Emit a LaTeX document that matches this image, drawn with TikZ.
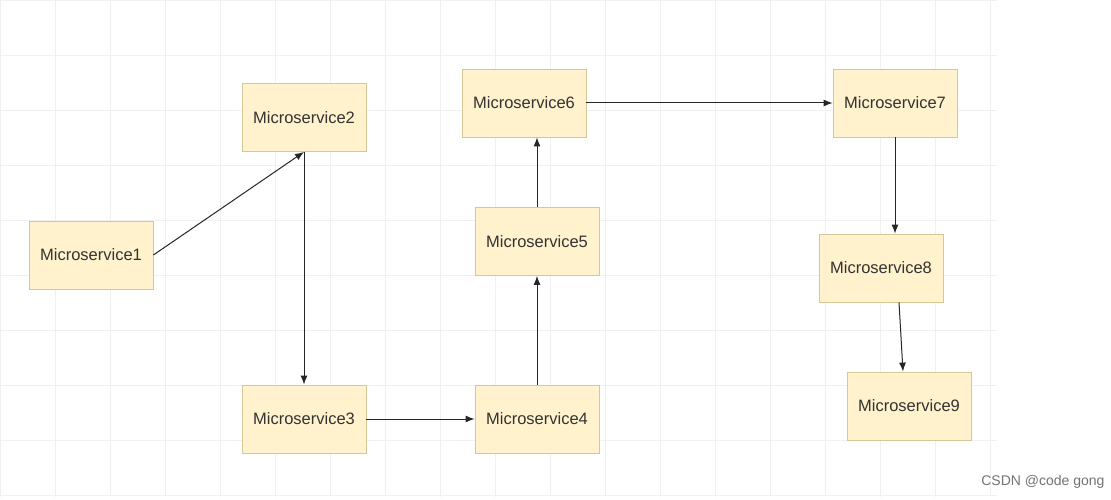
\documentclass[tikz,border=0pt]{standalone}
\usepackage{fontspec}
\usetikzlibrary{arrows.meta}
\setmainfont{Liberation Sans}
\begin{document}
\begin{tikzpicture}[x=1pt,y=-1pt,
  svc/.style={draw={rgb,255:red,214;green,200;blue,150},fill={rgb,255:red,255;green,242;blue,204},line width=0.8pt,minimum width=124pt,minimum height=68pt,font=\fontsize{16.5}{18}\selectfont,text=black!80},
  arr/.style={-{Latex[length=9pt,width=7pt]},line width=1pt,draw=black!85}]
\useasboundingbox (0,0) rectangle (1111,500);
\fill[white] (0,0) rectangle (1111,500);
\foreach \x in {0,55,...,990} \draw[black!6] (\x,0) -- (\x,497);
\foreach \y in {0,55,...,495} \draw[black!6] (0,\y) -- (997,\y);
\node[svc] (m1) at (91,255) {Microservice1};
\node[svc] (m2) at (304,117.5) {Microservice2};
\node[svc] (m3) at (304,419) {Microservice3};
\node[svc] (m4) at (537,419) {Microservice4};
\node[svc] (m5) at (537,241.5) {Microservice5};
\node[svc] (m6) at (524,103) {Microservice6};
\node[svc] (m7) at (895,103) {Microservice7};
\node[svc] (m8) at (881,268) {Microservice8};
\node[svc] (m9) at (909,406) {Microservice9};
\draw[arr] (m1.east) -- (m2.south);
\draw[arr] (m2.south) -- (m3.north);
\draw[arr] (m3.east) -- (m4.west);
\draw[arr] (m4.north) -- (m5.south);
\draw[arr] (m5.north) -- (m5.north |- m6.south);
\draw[arr] (m6.east) -- (m7.west);
\draw[arr] (m7.south) -- (m7.south |- m8.north);
\draw[arr] ([xshift=18pt]m8.south) -- ([xshift=-6pt]m9.north);
\node[font=\fontsize{14}{16}\selectfont,text=black!55,anchor=east] (wm) at (1108,482) {CSDN @code gong};
\end{tikzpicture}
\end{document}
